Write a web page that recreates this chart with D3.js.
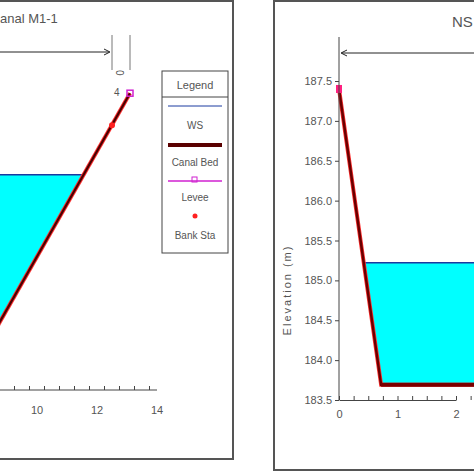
<!DOCTYPE html>
<html><head><meta charset="utf-8">
<script src="https://cdn.jsdelivr.net/npm/d3@7"></script>
<style>body{margin:0;background:#fff}text{font-family:"Liberation Sans",Arial,sans-serif;fill:#555}</style>
</head><body><div id="chart"></div>
<script>
// left panel (Canal M1-1), cropped
var leftTicks = [10, 12, 14];
var leftBed = [[8, 180.35], [13.1, 183.71]];
var leftWS = 182.69;
var leftBank = [12.5, 183.31];
var leftLevee = [13.1, 183.71];
// right panel (NS...)
var rightTicksX = [0, 1, 2];
var rightTicksY = [183.5, 184.0, 184.5, 185.0, 185.5, 186.0, 186.5, 187.0, 187.5];
var rightBed = [[0, 187.4], [0.72, 183.69], [3, 183.69]];
var rightWS = 185.22;
var legendItems = ["WS", "Canal Bed", "Levee", "Bank Sta"];

var svg = d3.select("#chart").append("svg").attr("width", 474).attr("height", 474);

function crossX(bed, ws) {
    for (var i = 0; i < bed.length - 1; i++) {
        var a = bed[i], b = bed[i + 1];
        if ((a[1] - ws) * (b[1] - ws) <= 0 && a[1] != b[1]) return a[0] + (ws - a[1]) * (b[0] - a[0]) / (b[1] - a[1]);
    }
    return bed[bed.length - 1][0];
}

// ---- left panel
var lp = svg.append("g");
lp.append("rect").attr("x", -5).attr("y", 1).attr("width", 238).attr("height", 458).attr("fill", "#fff").attr("stroke", "#555").attr("stroke-width", 2);
lp.append("clipPath").attr("id", "cl").append("rect").attr("x", 0).attr("y", 0).attr("width", 233).attr("height", 459);
var lx = d3.scaleLinear().domain([10, 14]).range([37, 157]);
var ly = d3.scaleLinear().domain([180, 181]).range([390, 310]);
var lg = lp.append("g").attr("clip-path", "url(#cl)");
var lline = d3.line().x(function(d) { return lx(d[0]); }).y(function(d) { return ly(d[1]); });
var lcx = crossX(leftBed, leftWS);
var lwater = leftBed.filter(function(d) { return d[1] < leftWS; }).concat([[lcx, leftWS], [leftBed[0][0], leftWS]]);
lg.append("path").attr("d", lline(lwater) + "Z").attr("fill", "#00ffff");
lg.append("line").attr("x1", lx(8)).attr("x2", lx(lcx)).attr("y1", ly(leftWS)).attr("y2", ly(leftWS)).attr("stroke", "#1a3aa0").attr("stroke-width", 1.5);
lg.append("path").attr("d", lline(leftBed)).attr("fill", "none").attr("stroke", "#ff3030").attr("stroke-width", 4);
lg.append("path").attr("d", lline(leftBed)).attr("fill", "none").attr("stroke", "#4a0000").attr("stroke-width", 2.2);
lg.append("circle").attr("cx", lx(leftBank[0])).attr("cy", ly(leftBank[1])).attr("r", 3).attr("fill", "#ff2020");
lg.append("rect").attr("x", lx(leftLevee[0]) - 3).attr("y", ly(leftLevee[1]) - 3).attr("width", 6).attr("height", 6).attr("fill", "none").attr("stroke", "#d020d0").attr("stroke-width", 1.5);
var lax = lp.append("g").attr("transform", "translate(0,390)");
lax.append("line").attr("x1", 0).attr("x2", lx(14)).attr("stroke", "#444");
d3.range(8.75, 14.01, 0.5).forEach(function(v) {
    lax.append("line").attr("x1", lx(v)).attr("x2", lx(v)).attr("y1", 0).attr("y2", -4).attr("stroke", "#444");
});
lax.selectAll("text").data(leftTicks).enter().append("text").attr("x", function(d) { return lx(d); }).attr("y", 24).attr("text-anchor", "middle").attr("font-size", 11).attr("fill", "#666").text(function(d) { return d; });
lp.append("text").attr("x", 0).attr("y", 23).attr("font-size", 13).attr("fill", "#6a5a80").text("anal M1-1");
lp.append("line").attr("x1", 0).attr("x2", 109).attr("y1", 52).attr("y2", 52).attr("stroke", "#222");
lp.append("path").attr("d", "M104,49L110,52L104,55").attr("fill", "none").attr("stroke", "#222");
lp.append("line").attr("x1", 112).attr("x2", 112).attr("y1", 35).attr("y2", 70).attr("stroke", "#777");
lp.append("line").attr("x1", 130).attr("x2", 130).attr("y1", 35).attr("y2", 70).attr("stroke", "#777");
lp.append("text").attr("transform", "translate(116,70) rotate(90)").attr("font-size", 10).text("0");
lp.append("text").attr("x", 114).attr("y", 96).attr("font-size", 10).text("4");
// legend
var leg = lp.append("g");
leg.append("rect").attr("x", 162).attr("y", 71).attr("width", 66).attr("height", 182).attr("fill", "#fff").attr("stroke", "#444");
leg.append("line").attr("x1", 162).attr("x2", 228).attr("y1", 97).attr("y2", 97).attr("stroke", "#444");
leg.append("text").attr("x", 195).attr("y", 89).attr("text-anchor", "middle").attr("font-size", 11).attr("fill", "#333").text("Legend");
leg.append("line").attr("x1", 168).attr("x2", 222).attr("y1", 106).attr("y2", 106).attr("stroke", "#1a3aa0");
leg.append("line").attr("x1", 168).attr("x2", 222).attr("y1", 145).attr("y2", 145).attr("stroke", "#5a0000").attr("stroke-width", 4);
leg.append("line").attr("x1", 168).attr("x2", 222).attr("y1", 181).attr("y2", 181).attr("stroke", "#d020d0").attr("stroke-width", 1.5);
leg.append("rect").attr("x", 192).attr("y", 177).attr("width", 5).attr("height", 5).attr("fill", "none").attr("stroke", "#d020d0");
leg.append("circle").attr("cx", 195).attr("cy", 216).attr("r", 2.5).attr("fill", "#ff2020");
leg.selectAll("text.it").data(legendItems).enter().append("text").attr("class", "it").attr("x", 195)
    .attr("y", function(d, i) { return [129, 166, 201, 239][i]; }).attr("text-anchor", "middle").attr("font-size", 10).text(function(d) { return d; });

// ---- right panel
var rp = svg.append("g");
rp.append("rect").attr("x", 274).attr("y", 1).attr("width", 210).attr("height", 469).attr("fill", "#fff").attr("stroke", "#555").attr("stroke-width", 2);
var rx = d3.scaleLinear().domain([0, 2]).range([339, 456]);
var ry = d3.scaleLinear().domain([183.5, 187.5]).range([400, 81]);
var rcx = crossX(rightBed, rightWS);
var rwater = [[rcx, rightWS]].concat(rightBed.filter(function(d) { return d[1] < rightWS; })).concat([[3, rightWS]]);
var rline = d3.line().x(function(d) { return rx(d[0]); }).y(function(d) { return ry(d[1]); });
rp.append("path").attr("d", rline(rwater) + "Z").attr("fill", "#00ffff");
rp.append("line").attr("x1", rx(rcx)).attr("x2", 474).attr("y1", ry(rightWS)).attr("y2", ry(rightWS)).attr("stroke", "#1a3aa0").attr("stroke-width", 1.5);
rp.append("path").attr("d", rline(rightBed)).attr("fill", "none").attr("stroke", "#ff3030").attr("stroke-width", 4);
rp.append("path").attr("d", rline(rightBed)).attr("fill", "none").attr("stroke", "#6a0000").attr("stroke-width", 2.5);
rp.append("path").attr("d", rline(rightBed.slice(1))).attr("fill", "none").attr("stroke", "#7a0000").attr("stroke-width", 4);
rp.append("rect").attr("x", rx(0) - 3).attr("y", ry(187.4) - 4).attr("width", 6).attr("height", 8).attr("fill", "#ff2080");
var ryAx = rp.append("g").attr("transform", "translate(339,0)").call(d3.axisLeft(ry).tickValues(rightTicksY).tickSize(4).tickFormat(d3.format(".1f")));
ryAx.select(".domain").attr("d", "M0,37V400");
var rxAx = rp.append("g").attr("transform", "translate(0,400)").call(d3.axisBottom(rx).tickValues(d3.range(0, 2.6, 0.25)).tickSizeInner(-4).tickSizeOuter(0).tickFormat(function(d) { return rightTicksX.indexOf(d) >= 0 ? d : ""; }));
rp.selectAll(".tick text").attr("fill", "#666").attr("font-size", 11).attr("font-family", "Liberation Sans Narrow, Liberation Sans, sans-serif");
rxAx.selectAll(".tick text").attr("dy", "1.4em");
rxAx.selectAll(".tick line").attr("y2", -4);
rp.selectAll(".domain,.tick line").attr("stroke", "#444");
rp.append("text").attr("transform", "translate(291,290) rotate(-90)").attr("text-anchor", "middle").attr("font-size", 11).attr("letter-spacing", 2).attr("fill", "#333").text("Elevation (m)");
rp.append("line").attr("x1", 342).attr("x2", 474).attr("y1", 53).attr("y2", 53).attr("stroke", "#222");
rp.append("path").attr("d", "M347,50L341,53L347,56").attr("fill", "none").attr("stroke", "#222");
rp.append("text").attr("x", 452).attr("y", 27).attr("font-size", 15).attr("fill", "#6a5a80").text("NS");
</script></body></html>
